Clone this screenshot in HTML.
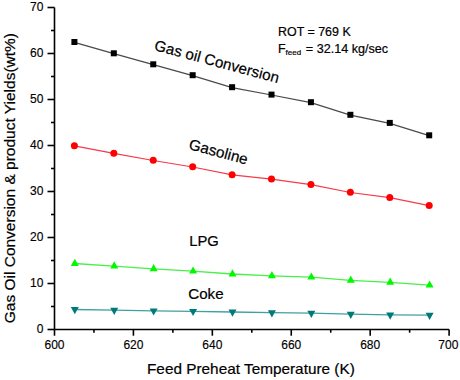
<!DOCTYPE html>
<html><head><meta charset="utf-8"><style>
html,body{margin:0;padding:0;background:#fff;width:460px;height:380px;overflow:hidden}
svg{display:block}
</style></head><body>
<svg width="460" height="380" viewBox="0 0 460 380">
<g stroke="#000" stroke-width="1.6" fill="none" stroke-linecap="butt">
<line x1="54.50" y1="7.50" x2="54.50" y2="329.50"/>
<line x1="54.50" y1="329.50" x2="449.10" y2="329.50"/>
<line x1="47.50" y1="329.50" x2="54.50" y2="329.50"/>
<line x1="51.00" y1="306.50" x2="54.50" y2="306.50"/>
<line x1="47.50" y1="283.50" x2="54.50" y2="283.50"/>
<line x1="51.00" y1="260.50" x2="54.50" y2="260.50"/>
<line x1="47.50" y1="237.50" x2="54.50" y2="237.50"/>
<line x1="51.00" y1="214.50" x2="54.50" y2="214.50"/>
<line x1="47.50" y1="191.50" x2="54.50" y2="191.50"/>
<line x1="51.00" y1="168.50" x2="54.50" y2="168.50"/>
<line x1="47.50" y1="145.50" x2="54.50" y2="145.50"/>
<line x1="51.00" y1="122.50" x2="54.50" y2="122.50"/>
<line x1="47.50" y1="99.50" x2="54.50" y2="99.50"/>
<line x1="51.00" y1="76.50" x2="54.50" y2="76.50"/>
<line x1="47.50" y1="53.50" x2="54.50" y2="53.50"/>
<line x1="51.00" y1="30.50" x2="54.50" y2="30.50"/>
<line x1="47.50" y1="7.50" x2="54.50" y2="7.50"/>
<line x1="54.50" y1="329.50" x2="54.50" y2="335.70"/>
<line x1="93.96" y1="329.50" x2="93.96" y2="332.70"/>
<line x1="133.42" y1="329.50" x2="133.42" y2="335.70"/>
<line x1="172.88" y1="329.50" x2="172.88" y2="332.70"/>
<line x1="212.34" y1="329.50" x2="212.34" y2="335.70"/>
<line x1="251.80" y1="329.50" x2="251.80" y2="332.70"/>
<line x1="291.26" y1="329.50" x2="291.26" y2="335.70"/>
<line x1="330.72" y1="329.50" x2="330.72" y2="332.70"/>
<line x1="370.18" y1="329.50" x2="370.18" y2="335.70"/>
<line x1="409.64" y1="329.50" x2="409.64" y2="332.70"/>
<line x1="449.10" y1="329.50" x2="449.10" y2="335.70"/>
</g>
<g font-family="&quot;Liberation Sans&quot;, sans-serif" font-size="12" fill="#000" stroke="#000" stroke-width="0.15">
<text x="43.4" y="332.80" text-anchor="end">0</text>
<text x="43.4" y="286.80" text-anchor="end">10</text>
<text x="43.4" y="240.80" text-anchor="end">20</text>
<text x="43.4" y="194.80" text-anchor="end">30</text>
<text x="43.4" y="148.80" text-anchor="end">40</text>
<text x="43.4" y="102.80" text-anchor="end">50</text>
<text x="43.4" y="56.80" text-anchor="end">60</text>
<text x="43.4" y="10.80" text-anchor="end">70</text>
<text x="54.50" y="348.8" text-anchor="middle">600</text>
<text x="133.42" y="348.8" text-anchor="middle">620</text>
<text x="212.34" y="348.8" text-anchor="middle">640</text>
<text x="291.26" y="348.8" text-anchor="middle">660</text>
<text x="370.18" y="348.8" text-anchor="middle">680</text>
<text x="448.30" y="348.8" text-anchor="middle">700</text>
</g>
<polyline points="74.40,42.40 113.82,53.70 153.24,64.70 192.67,75.60 232.09,87.60 271.51,95.00 310.93,102.60 350.36,115.20 389.78,123.30 429.20,135.70" fill="none" stroke="#4a4a4a" stroke-width="1.25"/>
<polyline points="74.40,145.90 113.82,153.30 153.24,160.50 192.67,167.00 232.09,174.80 271.51,179.20 310.93,184.60 350.36,192.50 389.78,197.70 429.20,205.70" fill="none" stroke="#f53a4a" stroke-width="1.25"/>
<polyline points="74.40,263.50 113.82,266.10 153.24,268.80 192.67,271.20 232.09,274.00 271.51,275.90 310.93,277.20 350.36,280.30 389.78,282.40 429.20,285.20" fill="none" stroke="#48f048" stroke-width="1.3"/>
<polyline points="74.40,309.50 113.82,310.10 153.24,310.80 192.67,311.30 232.09,312.00 271.51,312.70 310.93,313.10 350.36,314.20 389.78,314.90 429.20,315.20" fill="none" stroke="#40a0a0" stroke-width="1.3"/>
<rect x="71.40" y="39.00" width="6" height="6" fill="#000"/>
<rect x="110.82" y="50.30" width="6" height="6" fill="#000"/>
<rect x="150.24" y="61.30" width="6" height="6" fill="#000"/>
<rect x="189.67" y="72.20" width="6" height="6" fill="#000"/>
<rect x="229.09" y="84.20" width="6" height="6" fill="#000"/>
<rect x="268.51" y="91.60" width="6" height="6" fill="#000"/>
<rect x="307.93" y="99.20" width="6" height="6" fill="#000"/>
<rect x="347.36" y="111.80" width="6" height="6" fill="#000"/>
<rect x="386.78" y="119.90" width="6" height="6" fill="#000"/>
<rect x="426.20" y="132.30" width="6" height="6" fill="#000"/>
<circle cx="74.40" cy="145.75" r="3.5" fill="#ff0000"/>
<circle cx="113.82" cy="153.15" r="3.5" fill="#ff0000"/>
<circle cx="153.24" cy="160.35" r="3.5" fill="#ff0000"/>
<circle cx="192.67" cy="166.85" r="3.5" fill="#ff0000"/>
<circle cx="232.09" cy="174.65" r="3.5" fill="#ff0000"/>
<circle cx="271.51" cy="179.05" r="3.5" fill="#ff0000"/>
<circle cx="310.93" cy="184.45" r="3.5" fill="#ff0000"/>
<circle cx="350.36" cy="192.35" r="3.5" fill="#ff0000"/>
<circle cx="389.78" cy="197.55" r="3.5" fill="#ff0000"/>
<circle cx="429.20" cy="205.55" r="3.5" fill="#ff0000"/>
<polygon points="74.80,258.70 70.80,265.90 78.80,265.90" fill="#00f800"/>
<polygon points="114.22,261.30 110.22,268.50 118.22,268.50" fill="#00f800"/>
<polygon points="153.64,264.00 149.64,271.20 157.64,271.20" fill="#00f800"/>
<polygon points="193.07,266.40 189.07,273.60 197.07,273.60" fill="#00f800"/>
<polygon points="232.49,269.20 228.49,276.40 236.49,276.40" fill="#00f800"/>
<polygon points="271.91,271.10 267.91,278.30 275.91,278.30" fill="#00f800"/>
<polygon points="311.33,272.40 307.33,279.60 315.33,279.60" fill="#00f800"/>
<polygon points="350.76,275.50 346.76,282.70 354.76,282.70" fill="#00f800"/>
<polygon points="390.18,277.60 386.18,284.80 394.18,284.80" fill="#00f800"/>
<polygon points="429.60,280.40 425.60,287.60 433.60,287.60" fill="#00f800"/>
<polygon points="74.80,314.30 70.80,307.10 78.80,307.10" fill="#007a78"/>
<polygon points="114.22,314.90 110.22,307.70 118.22,307.70" fill="#007a78"/>
<polygon points="153.64,315.60 149.64,308.40 157.64,308.40" fill="#007a78"/>
<polygon points="193.07,316.10 189.07,308.90 197.07,308.90" fill="#007a78"/>
<polygon points="232.49,316.80 228.49,309.60 236.49,309.60" fill="#007a78"/>
<polygon points="271.91,317.50 267.91,310.30 275.91,310.30" fill="#007a78"/>
<polygon points="311.33,317.90 307.33,310.70 315.33,310.70" fill="#007a78"/>
<polygon points="350.76,319.00 346.76,311.80 354.76,311.80" fill="#007a78"/>
<polygon points="390.18,319.70 386.18,312.50 394.18,312.50" fill="#007a78"/>
<polygon points="429.60,320.00 425.60,312.80 433.60,312.80" fill="#007a78"/>
<g font-family="&quot;Liberation Sans&quot;, sans-serif" fill="#000" stroke="#000" stroke-width="0.2">
<text x="278" y="36" font-size="12.45">ROT = 769 K</text>
<text x="278" y="53" font-size="12.45">F<tspan font-size="8" dy="1.7">feed</tspan><tspan dy="-1.7" dx="1.2" font-size="12.6"> = 32.14 kg/sec</tspan></text>
<text x="0" y="0" font-size="15.2" transform="translate(153.6,50) rotate(15)">Gas oil Conversion</text>
<text x="0" y="0" font-size="15.3" transform="translate(188,149) rotate(15)">Gasoline</text>
<text x="189.2" y="246" font-size="14.8">LPG</text>
<text x="188.3" y="299" font-size="15.1">Coke</text>
<text x="147" y="374" font-size="15.35">Feed Preheat Temperature (K)</text>
<text x="0" y="0" font-size="15.5" transform="translate(15.3,323.3) rotate(-90)">Gas Oil Conversion &amp; product Yields(wt%)</text>
</g>
</svg>
</body></html>
